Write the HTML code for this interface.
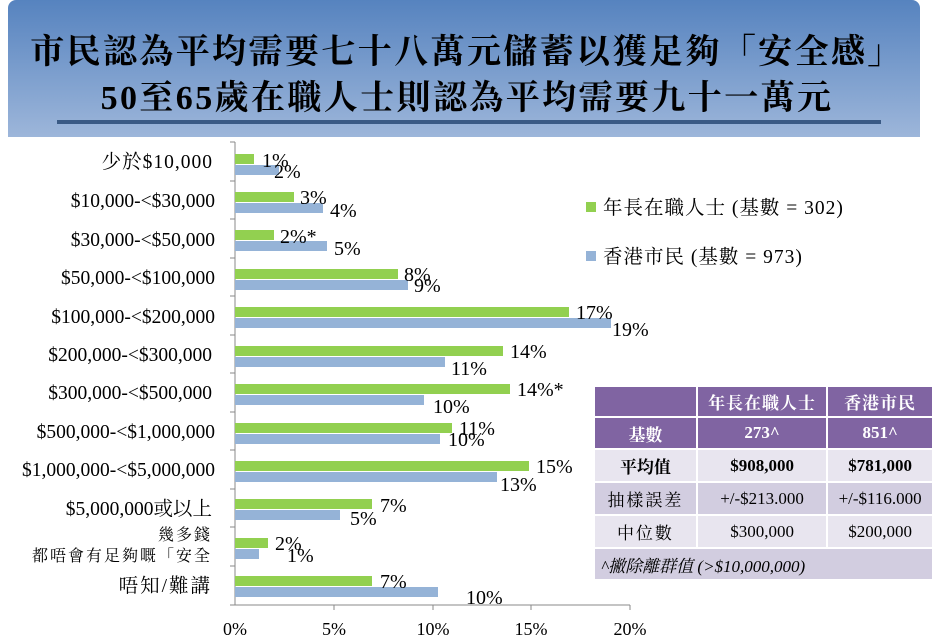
<!DOCTYPE html>
<html><head><meta charset="utf-8"><style>
body{margin:0;width:934px;height:640px;background:#fff;overflow:hidden;position:relative;font-family:"Liberation Serif","Noto Serif CJK SC",serif;}
.hdr{position:absolute;left:8px;top:0;width:912px;height:137px;background:linear-gradient(#5683bf,#9db6da);border-radius:8px 8px 0 0;}
.t{position:absolute;left:0;width:934px;text-align:center;font-weight:bold;font-size:34px;color:#000;white-space:nowrap;}
.line{position:absolute;left:57px;top:120px;width:824px;height:4px;background:#3a5a85;}
svg text{font-family:"Liberation Serif","Noto Serif CJK TC",serif;}
table{position:absolute;left:593px;top:385px;border-collapse:separate;border-spacing:2px;font-size:17px;}
td{text-align:center;padding:0;}
</style></head><body>
<div class="hdr"></div>
<div class="t" style="top:24px;letter-spacing:2.4px">市民認為平均需要七十八萬元儲蓄以獲足夠「安全感」</div>
<div class="t" style="top:70px;letter-spacing:2.4px">50至65歲在職人士則認為平均需要九十一萬元</div>
<div class="line"></div>
<svg width="934" height="640" style="position:absolute;left:0;top:0">
<g stroke="#888" stroke-width="1">
<line x1="235" y1="142" x2="235" y2="605"/><line x1="230" y1="605" x2="630" y2="605"/>
<line x1="230" y1="142" x2="235" y2="142"/><line x1="230" y1="181" x2="235" y2="181"/><line x1="230" y1="219" x2="235" y2="219"/><line x1="230" y1="258" x2="235" y2="258"/><line x1="230" y1="296" x2="235" y2="296"/><line x1="230" y1="335" x2="235" y2="335"/><line x1="230" y1="373" x2="235" y2="373"/><line x1="230" y1="412" x2="235" y2="412"/><line x1="230" y1="450" x2="235" y2="450"/><line x1="230" y1="489" x2="235" y2="489"/><line x1="230" y1="527" x2="235" y2="527"/><line x1="230" y1="566" x2="235" y2="566"/>
<line x1="334" y1="605" x2="334" y2="610"/><line x1="433" y1="605" x2="433" y2="610"/><line x1="531" y1="605" x2="531" y2="610"/><line x1="630" y1="605" x2="630" y2="610"/>
</g>
<g fill="#92d050">
<rect x="235" y="154" width="19" height="10"/><rect x="235" y="192" width="59" height="10"/><rect x="235" y="230" width="39" height="10"/><rect x="235" y="269" width="163" height="10"/><rect x="235" y="307" width="334" height="10"/><rect x="235" y="346" width="268" height="10"/><rect x="235" y="384" width="275" height="10"/><rect x="235" y="423" width="217" height="10"/><rect x="235" y="461" width="294" height="10"/><rect x="235" y="499" width="137" height="10"/><rect x="235" y="538" width="33" height="10"/><rect x="235" y="576" width="137" height="10"/>
</g>
<g fill="#95b3d7">
<rect x="235" y="165" width="44" height="10"/><rect x="235" y="203" width="88" height="10"/><rect x="235" y="241" width="92" height="10"/><rect x="235" y="280" width="173" height="10"/><rect x="235" y="318" width="376" height="10"/><rect x="235" y="357" width="210" height="10"/><rect x="235" y="395" width="189" height="10"/><rect x="235" y="434" width="205" height="10"/><rect x="235" y="472" width="262" height="10"/><rect x="235" y="510" width="105" height="10"/><rect x="235" y="549" width="24" height="10"/><rect x="235" y="587" width="203" height="10"/>
</g>
<g font-size="20" fill="#000">
<text x="262" y="167">1%</text><text x="274" y="178">2%</text>
<text x="300" y="204">3%</text><text x="330" y="217">4%</text>
<text x="280" y="243">2%*</text><text x="334" y="255">5%</text>
<text x="404" y="281">8%</text><text x="414" y="292">9%</text>
<text x="576" y="319">17%</text><text x="612" y="336">19%</text>
<text x="510" y="358">14%</text><text x="451" y="375">11%</text>
<text x="517" y="396">14%*</text><text x="433" y="413">10%</text>
<text x="459" y="435">11%</text><text x="448" y="446">10%</text>
<text x="536" y="473">15%</text><text x="500" y="491">13%</text>
<text x="380" y="512">7%</text><text x="350" y="525">5%</text>
<text x="275" y="550">2%</text><text x="287" y="562">1%</text>
<text x="380" y="588">7%</text><text x="466" y="604">10%</text>
</g>
<g font-size="19.5" fill="#000" text-anchor="end">
<text x="213" y="168" letter-spacing="1">少於$10,000</text>
<text x="215" y="207">$10,000-&lt;$30,000</text>
<text x="215" y="246">$30,000-&lt;$50,000</text>
<text x="215" y="284">$50,000-&lt;$100,000</text>
<text x="215" y="323">$100,000-&lt;$200,000</text>
<text x="212" y="361">$200,000-&lt;$300,000</text>
<text x="212" y="399">$300,000-&lt;$500,000</text>
<text x="215" y="438">$500,000-&lt;$1,000,000</text>
<text x="215" y="476">$1,000,000-&lt;$5,000,000</text>
<text x="212" y="515">$5,000,000或以上</text>
<text x="212" y="540" font-size="16" letter-spacing="2">幾多錢</text>
<text x="212" y="561" font-size="16" letter-spacing="2">都唔會有足夠嘅「安全</text>
<text x="212" y="592" letter-spacing="2">唔知/難講</text>
</g>
<g font-size="18" fill="#000" text-anchor="middle">
<text x="235" y="635">0%</text><text x="334" y="635">5%</text><text x="433" y="635">10%</text><text x="531" y="635">15%</text><text x="630" y="635">20%</text>
</g>
<rect x="586" y="202" width="10" height="10" fill="#92d050"/>
<text x="603" y="214" font-size="19.5" letter-spacing="1">年長在職人士 (基數 = 302)</text>
<rect x="586" y="251" width="10" height="10" fill="#95b3d7"/>
<text x="603" y="263" font-size="19.5" letter-spacing="1">香港市民 (基數 = 973)</text>
</svg>
<table>
<tr style="height:29px;background:#8064a2;color:#fff;font-weight:bold;letter-spacing:1px"><td style="width:102px"></td><td style="width:129px">年長在職人士</td><td style="width:104px">香港市民</td></tr>
<tr style="height:30px;background:#8064a2;color:#fff;font-weight:bold"><td>基數</td><td>273^</td><td>851^</td></tr>
<tr style="height:31px;background:#e8e5ef;font-weight:bold"><td>平均值</td><td>$908,000</td><td>$781,000</td></tr>
<tr style="height:31px;background:#d2cde0"><td style="letter-spacing:2px">抽樣誤差</td><td>+/-$213.000</td><td>+/-$116.000</td></tr>
<tr style="height:31px;background:#e8e5ef"><td style="letter-spacing:2px">中位數</td><td>$300,000</td><td>$200,000</td></tr>
<tr style="height:30px;background:#d2cde0"><td colspan="3" style="text-align:left;font-style:italic;padding-left:6px">^撇除離群值 (&gt;$10,000,000)</td></tr>
</table>
</body></html>
